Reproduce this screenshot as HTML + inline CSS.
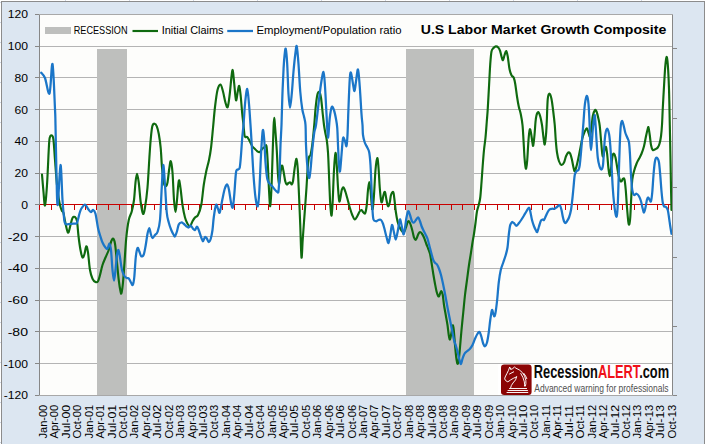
<!DOCTYPE html>
<html><head><meta charset="utf-8"><title>U.S Labor Market Growth Composite</title>
<style>html,body{margin:0;padding:0;background:#fff;}body{width:705px;height:444px;overflow:hidden;font-family:"Liberation Sans",sans-serif;}svg{display:block}text{font-family:"Liberation Sans",sans-serif;}</style></head><body>
<svg width="705" height="444" viewBox="0 0 705 444">
<rect x="0" y="0" width="705" height="444" fill="#ffffff"/>
<g shape-rendering="crispEdges">
<rect x="1" y="1" width="704" height="460" fill="#8c8c8c"/>
<rect x="2" y="2" width="702" height="460" fill="#dce6f1"/>
<rect x="65" y="0" width="1" height="1" fill="#d0d7e5"/>
<rect x="129" y="0" width="1" height="1" fill="#d0d7e5"/>
<rect x="193" y="0" width="1" height="1" fill="#d0d7e5"/>
<rect x="257" y="0" width="1" height="1" fill="#d0d7e5"/>
<rect x="321" y="0" width="1" height="1" fill="#d0d7e5"/>
<rect x="385" y="0" width="1" height="1" fill="#d0d7e5"/>
<rect x="449" y="0" width="1" height="1" fill="#d0d7e5"/>
<rect x="513" y="0" width="1" height="1" fill="#d0d7e5"/>
<rect x="577" y="0" width="1" height="1" fill="#d0d7e5"/>
<rect x="641" y="0" width="1" height="1" fill="#d0d7e5"/>
<rect x="0" y="2" width="1" height="1" fill="#d0d7e5"/>
<rect x="0" y="22" width="1" height="1" fill="#d0d7e5"/>
<rect x="0" y="42" width="1" height="1" fill="#d0d7e5"/>
<rect x="0" y="62" width="1" height="1" fill="#d0d7e5"/>
<rect x="0" y="82" width="1" height="1" fill="#d0d7e5"/>
<rect x="0" y="102" width="1" height="1" fill="#d0d7e5"/>
<rect x="0" y="122" width="1" height="1" fill="#d0d7e5"/>
<rect x="0" y="142" width="1" height="1" fill="#d0d7e5"/>
<rect x="0" y="162" width="1" height="1" fill="#d0d7e5"/>
<rect x="0" y="182" width="1" height="1" fill="#d0d7e5"/>
<rect x="0" y="202" width="1" height="1" fill="#d0d7e5"/>
<rect x="0" y="222" width="1" height="1" fill="#d0d7e5"/>
<rect x="0" y="242" width="1" height="1" fill="#d0d7e5"/>
<rect x="0" y="262" width="1" height="1" fill="#d0d7e5"/>
<rect x="0" y="282" width="1" height="1" fill="#d0d7e5"/>
<rect x="0" y="302" width="1" height="1" fill="#d0d7e5"/>
<rect x="0" y="322" width="1" height="1" fill="#d0d7e5"/>
<rect x="0" y="342" width="1" height="1" fill="#d0d7e5"/>
<rect x="0" y="362" width="1" height="1" fill="#d0d7e5"/>
<rect x="0" y="382" width="1" height="1" fill="#d0d7e5"/>
<rect x="0" y="402" width="1" height="1" fill="#d0d7e5"/>
<rect x="0" y="422" width="1" height="1" fill="#d0d7e5"/>
<rect x="0" y="442" width="1" height="1" fill="#d0d7e5"/>
<rect x="39" y="14" width="634" height="382" fill="#fdfdfb"/>
<rect x="40" y="363" width="632" height="1" fill="#b4b4b4"/>
<rect x="40" y="331" width="632" height="1" fill="#b4b4b4"/>
<rect x="40" y="300" width="632" height="1" fill="#b4b4b4"/>
<rect x="40" y="268" width="632" height="1" fill="#b4b4b4"/>
<rect x="40" y="236" width="632" height="1" fill="#b4b4b4"/>
<rect x="40" y="173" width="632" height="1" fill="#b4b4b4"/>
<rect x="40" y="141" width="632" height="1" fill="#b4b4b4"/>
<rect x="40" y="109" width="632" height="1" fill="#b4b4b4"/>
<rect x="40" y="77" width="632" height="1" fill="#b4b4b4"/>
<rect x="40" y="46" width="632" height="1" fill="#b4b4b4"/>
<rect x="40" y="14" width="632" height="1" fill="#b4b4b4"/>
<rect x="97" y="49" width="30" height="346" fill="#bebfbd"/>
<rect x="406" y="49" width="68" height="346" fill="#bebfbd"/>
<rect x="40" y="204" width="632" height="1" fill="#c80000"/>
<rect x="51" y="204" width="1" height="6" fill="#c80000"/>
<rect x="62" y="204" width="1" height="6" fill="#c80000"/>
<rect x="74" y="204" width="1" height="6" fill="#c80000"/>
<rect x="85" y="204" width="1" height="6" fill="#c80000"/>
<rect x="96" y="204" width="1" height="6" fill="#c80000"/>
<rect x="108" y="204" width="1" height="6" fill="#c80000"/>
<rect x="119" y="204" width="1" height="6" fill="#c80000"/>
<rect x="131" y="204" width="1" height="6" fill="#c80000"/>
<rect x="142" y="204" width="1" height="6" fill="#c80000"/>
<rect x="154" y="204" width="1" height="6" fill="#c80000"/>
<rect x="165" y="204" width="1" height="6" fill="#c80000"/>
<rect x="176" y="204" width="1" height="6" fill="#c80000"/>
<rect x="188" y="204" width="1" height="6" fill="#c80000"/>
<rect x="199" y="204" width="1" height="6" fill="#c80000"/>
<rect x="211" y="204" width="1" height="6" fill="#c80000"/>
<rect x="222" y="204" width="1" height="6" fill="#c80000"/>
<rect x="234" y="204" width="1" height="6" fill="#c80000"/>
<rect x="245" y="204" width="1" height="6" fill="#c80000"/>
<rect x="256" y="204" width="1" height="6" fill="#c80000"/>
<rect x="268" y="204" width="1" height="6" fill="#c80000"/>
<rect x="279" y="204" width="1" height="6" fill="#c80000"/>
<rect x="291" y="204" width="1" height="6" fill="#c80000"/>
<rect x="302" y="204" width="1" height="6" fill="#c80000"/>
<rect x="314" y="204" width="1" height="6" fill="#c80000"/>
<rect x="325" y="204" width="1" height="6" fill="#c80000"/>
<rect x="336" y="204" width="1" height="6" fill="#c80000"/>
<rect x="348" y="204" width="1" height="6" fill="#c80000"/>
<rect x="359" y="204" width="1" height="6" fill="#c80000"/>
<rect x="371" y="204" width="1" height="6" fill="#c80000"/>
<rect x="382" y="204" width="1" height="6" fill="#c80000"/>
<rect x="394" y="204" width="1" height="6" fill="#c80000"/>
<rect x="405" y="204" width="1" height="6" fill="#c80000"/>
<rect x="416" y="204" width="1" height="6" fill="#c80000"/>
<rect x="428" y="204" width="1" height="6" fill="#c80000"/>
<rect x="439" y="204" width="1" height="6" fill="#c80000"/>
<rect x="451" y="204" width="1" height="6" fill="#c80000"/>
<rect x="462" y="204" width="1" height="6" fill="#c80000"/>
<rect x="474" y="204" width="1" height="6" fill="#c80000"/>
<rect x="485" y="204" width="1" height="6" fill="#c80000"/>
<rect x="497" y="204" width="1" height="6" fill="#c80000"/>
<rect x="508" y="204" width="1" height="6" fill="#c80000"/>
<rect x="519" y="204" width="1" height="6" fill="#c80000"/>
<rect x="531" y="204" width="1" height="6" fill="#c80000"/>
<rect x="542" y="204" width="1" height="6" fill="#c80000"/>
<rect x="554" y="204" width="1" height="6" fill="#c80000"/>
<rect x="565" y="204" width="1" height="6" fill="#c80000"/>
<rect x="577" y="204" width="1" height="6" fill="#c80000"/>
<rect x="588" y="204" width="1" height="6" fill="#c80000"/>
<rect x="599" y="204" width="1" height="6" fill="#c80000"/>
<rect x="611" y="204" width="1" height="6" fill="#c80000"/>
<rect x="622" y="204" width="1" height="6" fill="#c80000"/>
<rect x="634" y="204" width="1" height="6" fill="#c80000"/>
<rect x="645" y="204" width="1" height="6" fill="#c80000"/>
<rect x="657" y="204" width="1" height="6" fill="#c80000"/>
<rect x="668" y="204" width="1" height="6" fill="#c80000"/>
</g>
<clipPath id="cp"><rect x="39" y="14" width="634" height="382"/></clipPath>
<g clip-path="url(#cp)" fill="none" stroke-linejoin="round" stroke-linecap="round">
<path d="M42.00,174.50C42.25,177.42 43.00,186.83 43.50,192.00C44.00,197.17 44.42,206.67 45.00,205.50C45.58,204.33 46.33,195.08 47.00,185.00C47.67,174.92 48.50,153.00 49.00,145.00C49.50,137.00 49.50,138.58 50.00,137.00C50.50,135.42 51.42,135.00 52.00,135.50C52.58,136.00 53.00,135.92 53.50,140.00C54.00,144.08 54.42,152.50 55.00,160.00C55.58,167.50 56.33,178.33 57.00,185.00C57.67,191.67 58.42,196.33 59.00,200.00C59.58,203.67 60.00,205.17 60.50,207.00C61.00,208.83 61.50,210.00 62.00,211.00C62.50,212.00 63.00,211.33 63.50,213.00C64.00,214.67 64.42,218.17 65.00,221.00C65.58,223.83 66.42,228.08 67.00,230.00C67.58,231.92 67.92,233.33 68.50,232.50C69.08,231.67 69.83,227.42 70.50,225.00C71.17,222.58 71.75,219.33 72.50,218.00C73.25,216.67 74.25,216.50 75.00,217.00C75.75,217.50 76.42,217.83 77.00,221.00C77.58,224.17 77.92,231.17 78.50,236.00C79.08,240.83 79.83,246.42 80.50,250.00C81.17,253.58 81.83,256.83 82.50,257.50C83.17,258.17 83.88,255.88 84.50,254.00C85.12,252.12 85.67,246.50 86.25,246.25C86.83,246.00 87.38,248.54 88.00,252.50C88.62,256.46 89.25,265.62 90.00,270.00C90.75,274.38 91.58,276.75 92.50,278.75C93.42,280.75 94.58,281.58 95.50,282.00C96.42,282.42 97.25,282.42 98.00,281.25C98.75,280.08 99.25,277.71 100.00,275.00C100.75,272.29 101.58,267.92 102.50,265.00C103.42,262.08 104.46,260.00 105.50,257.50C106.54,255.00 107.79,252.71 108.75,250.00C109.71,247.29 110.50,243.12 111.25,241.25C112.00,239.38 112.62,238.33 113.25,238.75C113.88,239.17 114.42,240.21 115.00,243.75C115.58,247.29 116.12,253.96 116.75,260.00C117.38,266.04 118.12,274.79 118.75,280.00C119.38,285.21 120.04,289.08 120.50,291.25C120.96,293.42 121.08,294.46 121.50,293.00C121.92,291.54 122.50,287.58 123.00,282.50C123.50,277.42 123.96,269.92 124.50,262.50C125.04,255.08 125.54,245.08 126.25,238.00C126.96,230.92 127.83,224.46 128.75,220.00C129.68,215.54 130.93,214.58 131.80,211.25C132.68,207.92 133.38,204.79 134.00,200.00C134.62,195.21 135.00,186.88 135.50,182.50C136.00,178.12 136.46,173.75 137.00,173.75C137.54,173.75 138.12,177.71 138.75,182.50C139.38,187.29 140.04,197.29 140.75,202.50C141.46,207.71 142.29,212.92 143.00,213.75C143.71,214.58 144.25,211.88 145.00,207.50C145.75,203.12 146.77,195.83 147.50,187.50C148.23,179.17 148.87,165.50 149.40,157.50C149.93,149.50 150.22,144.70 150.70,139.50C151.18,134.30 151.65,128.93 152.30,126.30C152.95,123.67 153.85,123.70 154.60,123.70C155.35,123.70 156.10,124.58 156.80,126.30C157.50,128.02 158.15,130.38 158.80,134.00C159.45,137.62 160.17,142.42 160.70,148.00C161.23,153.58 161.49,161.75 162.00,167.50C162.51,173.25 163.12,179.38 163.75,182.50C164.38,185.62 165.12,186.25 165.75,186.25C166.38,186.25 166.92,185.42 167.50,182.50C168.08,179.58 168.71,172.29 169.25,168.75C169.79,165.21 170.21,160.62 170.75,161.25C171.29,161.88 171.96,166.04 172.50,172.50C173.04,178.96 173.50,193.42 174.00,200.00C174.50,206.58 175.00,212.00 175.50,212.00C176.00,212.00 176.54,204.50 177.00,200.00C177.46,195.50 177.88,188.25 178.25,185.00C178.62,181.75 178.83,179.67 179.25,180.50C179.67,181.33 180.21,185.92 180.75,190.00C181.29,194.08 181.79,200.42 182.50,205.00C183.21,209.58 184.17,214.38 185.00,217.50C185.83,220.62 186.67,222.29 187.50,223.75C188.33,225.21 189.17,226.67 190.00,226.25C190.83,225.83 191.67,222.71 192.50,221.25C193.33,219.79 194.08,218.54 195.00,217.50C195.92,216.46 196.96,217.08 198.00,215.00C199.04,212.92 200.29,210.00 201.25,205.00C202.21,200.00 202.92,190.62 203.75,185.00C204.58,179.38 205.38,175.42 206.25,171.25C207.12,167.08 208.21,163.88 209.00,160.00C209.79,156.12 210.33,153.33 211.00,148.00C211.67,142.67 212.33,134.83 213.00,128.00C213.67,121.17 214.25,113.33 215.00,107.00C215.75,100.67 216.58,93.75 217.50,90.00C218.42,86.25 219.58,84.25 220.50,84.50C221.42,84.75 222.17,88.46 223.00,91.50C223.83,94.54 224.71,100.17 225.50,102.75C226.29,105.33 227.04,108.46 227.75,107.00C228.46,105.54 229.12,99.08 229.75,94.00C230.38,88.92 231.00,80.46 231.50,76.50C232.00,72.54 232.29,69.00 232.75,70.25C233.21,71.50 233.71,79.00 234.25,84.00C234.79,89.00 235.42,99.00 236.00,100.25C236.58,101.50 237.21,93.88 237.75,91.50C238.29,89.12 238.75,85.17 239.25,86.00C239.75,86.83 240.25,91.83 240.75,96.50C241.25,101.17 241.79,109.25 242.25,114.00C242.71,118.75 243.08,121.29 243.50,125.00C243.92,128.71 244.12,134.25 244.75,136.25C245.38,138.25 246.42,136.17 247.25,137.00C248.08,137.83 248.92,139.71 249.75,141.25C250.58,142.79 251.42,145.00 252.25,146.25C253.08,147.50 253.92,147.92 254.75,148.75C255.58,149.58 256.42,150.71 257.25,151.25C258.08,151.79 258.92,152.42 259.75,152.00C260.58,151.58 261.42,149.58 262.25,148.75C263.08,147.92 264.04,147.42 264.75,147.00C265.46,146.58 266.00,143.67 266.50,146.25C267.00,148.83 267.33,155.21 267.75,162.50C268.17,169.79 268.58,182.71 269.00,190.00C269.42,197.29 269.83,206.67 270.25,206.25C270.67,205.83 271.08,196.88 271.50,187.50C271.92,178.12 272.40,160.25 272.75,150.00C273.10,139.75 273.35,131.37 273.60,126.00C273.85,120.63 274.02,117.80 274.25,117.80C274.48,117.80 274.58,120.63 275.00,126.00C275.42,131.37 276.25,141.83 276.75,150.00C277.25,158.17 277.58,169.38 278.00,175.00C278.42,180.62 278.83,184.17 279.25,183.75C279.67,183.33 280.04,175.54 280.50,172.50C280.96,169.46 281.50,165.71 282.00,165.50C282.50,165.29 282.96,168.62 283.50,171.25C284.04,173.88 284.71,179.04 285.25,181.25C285.79,183.46 286.21,184.21 286.75,184.50C287.29,184.79 287.92,183.33 288.50,183.00C289.08,182.67 289.71,182.25 290.25,182.50C290.79,182.75 291.29,184.71 291.75,184.50C292.21,184.29 292.50,184.08 293.00,181.25C293.50,178.42 294.17,171.25 294.75,167.50C295.33,163.75 296.00,158.54 296.50,158.75C297.00,158.96 297.33,162.71 297.75,168.75C298.17,174.79 298.58,185.62 299.00,195.00C299.42,204.38 299.83,214.58 300.25,225.00C300.67,235.42 301.09,255.00 301.50,257.50C301.91,260.00 302.28,245.92 302.70,240.00C303.12,234.08 303.57,227.83 304.00,222.00C304.43,216.17 304.83,210.75 305.25,205.00C305.67,199.25 306.08,193.75 306.50,187.50C306.92,181.25 307.33,172.58 307.75,167.50C308.17,162.42 308.54,159.08 309.00,157.00C309.46,154.92 309.96,157.00 310.50,155.00C311.04,153.00 311.75,148.67 312.25,145.00C312.75,141.33 313.12,136.83 313.50,133.00C313.88,129.17 314.17,126.00 314.50,122.00C314.83,118.00 315.04,113.46 315.50,109.00C315.96,104.54 316.62,98.08 317.25,95.25C317.88,92.42 318.62,91.58 319.25,92.00C319.88,92.42 320.42,94.08 321.00,97.75C321.58,101.42 322.25,109.46 322.75,114.00C323.25,118.54 323.58,121.92 324.00,125.00C324.42,128.08 324.79,130.00 325.25,132.50C325.71,135.00 326.29,136.67 326.75,140.00C327.21,143.33 327.62,146.67 328.00,152.50C328.38,158.33 328.67,167.08 329.00,175.00C329.33,182.92 329.67,193.67 330.00,200.00C330.33,206.33 330.71,210.58 331.00,213.00C331.29,215.42 331.46,216.67 331.75,214.50C332.04,212.33 332.38,207.42 332.75,200.00C333.12,192.58 333.54,177.83 334.00,170.00C334.46,162.17 335.04,153.83 335.50,153.00C335.96,152.17 336.33,159.25 336.75,165.00C337.17,170.75 337.58,181.46 338.00,187.50C338.42,193.54 338.83,199.58 339.25,201.25C339.67,202.92 340.08,199.38 340.50,197.50C340.92,195.62 341.25,191.67 341.75,190.00C342.25,188.33 342.88,187.17 343.50,187.50C344.12,187.83 344.79,189.92 345.50,192.00C346.21,194.08 347.04,197.42 347.75,200.00C348.46,202.58 349.00,205.00 349.75,207.50C350.50,210.00 351.42,213.00 352.25,215.00C353.08,217.00 353.92,219.29 354.75,219.50C355.58,219.71 356.42,217.62 357.25,216.25C358.08,214.88 359.04,212.29 359.75,211.25C360.46,210.21 360.88,209.79 361.50,210.00C362.12,210.21 362.88,212.00 363.50,212.50C364.12,213.00 364.71,214.25 365.25,213.00C365.79,211.75 366.29,208.83 366.75,205.00C367.21,201.17 367.58,193.83 368.00,190.00C368.42,186.17 368.83,182.00 369.25,182.00C369.67,182.00 370.08,186.17 370.50,190.00C370.92,193.83 371.38,201.88 371.75,205.00C372.12,208.12 372.38,210.42 372.75,208.75C373.12,207.08 373.54,201.46 374.00,195.00C374.46,188.54 374.96,176.17 375.50,170.00C376.04,163.83 376.75,158.42 377.25,158.00C377.75,157.58 378.08,162.58 378.50,167.50C378.92,172.42 379.33,182.08 379.75,187.50C380.17,192.92 380.62,197.58 381.00,200.00C381.38,202.42 381.58,202.83 382.00,202.00C382.42,201.17 383.00,196.67 383.50,195.00C384.00,193.33 384.50,191.17 385.00,192.00C385.50,192.83 386.00,197.62 386.50,200.00C387.00,202.38 387.46,205.83 388.00,206.25C388.54,206.67 389.25,204.38 389.75,202.50C390.25,200.62 390.42,196.75 391.00,195.00C391.58,193.25 392.67,191.17 393.25,192.00C393.83,192.83 394.08,196.79 394.50,200.00C394.92,203.21 395.25,207.71 395.75,211.25C396.25,214.79 396.88,218.62 397.50,221.25C398.12,223.88 398.83,225.46 399.50,227.00C400.17,228.54 400.78,229.58 401.50,230.50C402.22,231.42 403.09,232.92 403.80,232.50C404.51,232.08 405.13,229.67 405.75,228.00C406.37,226.33 406.96,223.62 407.50,222.50C408.04,221.38 408.46,220.83 409.00,221.25C409.54,221.67 410.17,223.33 410.75,225.00C411.33,226.67 411.96,229.17 412.50,231.25C413.04,233.33 413.50,236.04 414.00,237.50C414.50,238.96 415.00,240.00 415.50,240.00C416.00,240.00 416.50,238.54 417.00,237.50C417.50,236.46 418.00,234.67 418.50,233.75C419.00,232.83 419.42,232.00 420.00,232.00C420.58,232.00 421.33,232.83 422.00,233.75C422.67,234.67 423.29,235.83 424.00,237.50C424.71,239.17 425.54,241.88 426.25,243.75C426.96,245.62 427.62,247.08 428.25,248.75C428.88,250.42 429.46,251.46 430.00,253.75C430.54,256.04 430.96,259.17 431.50,262.50C432.04,265.83 432.67,270.21 433.25,273.75C433.83,277.29 434.46,280.83 435.00,283.75C435.54,286.67 436.00,289.25 436.50,291.25C437.00,293.25 437.58,294.92 438.00,295.75C438.42,296.58 438.62,296.71 439.00,296.25C439.38,295.79 439.83,293.83 440.25,293.00C440.67,292.17 441.08,290.92 441.50,291.25C441.92,291.58 442.33,292.71 442.75,295.00C443.17,297.29 443.50,301.67 444.00,305.00C444.50,308.33 445.17,311.67 445.75,315.00C446.33,318.33 447.00,321.67 447.50,325.00C448.00,328.33 448.33,332.58 448.75,335.00C449.17,337.42 449.54,339.92 450.00,339.50C450.46,339.08 451.00,334.92 451.50,332.50C452.00,330.08 452.58,325.00 453.00,325.00C453.42,325.00 453.67,329.17 454.00,332.50C454.33,335.83 454.62,340.83 455.00,345.00C455.38,349.17 455.83,354.38 456.25,357.50C456.67,360.62 457.08,363.33 457.50,363.75C457.92,364.17 458.33,362.71 458.75,360.00C459.17,357.29 459.54,352.50 460.00,347.50C460.46,342.50 460.96,335.83 461.50,330.00C462.04,324.17 462.67,318.33 463.25,312.50C463.83,306.67 464.38,300.42 465.00,295.00C465.62,289.58 466.33,285.00 467.00,280.00C467.67,275.00 468.33,269.58 469.00,265.00C469.67,260.42 470.42,256.25 471.00,252.50C471.58,248.75 472.00,245.62 472.50,242.50C473.00,239.38 473.50,237.00 474.00,233.75C474.50,230.50 475.00,226.75 475.50,223.00C476.00,219.25 476.46,214.25 477.00,211.25C477.54,208.25 478.21,207.29 478.75,205.00C479.29,202.71 479.79,201.25 480.25,197.50C480.71,193.75 481.08,187.92 481.50,182.50C481.92,177.08 482.33,170.42 482.75,165.00C483.17,159.58 483.54,154.58 484.00,150.00C484.46,145.42 485.04,142.17 485.50,137.50C485.96,132.83 486.38,126.75 486.75,122.00C487.12,117.25 487.38,114.92 487.75,109.00C488.12,103.08 488.58,94.00 489.00,86.50C489.42,79.00 489.83,69.83 490.25,64.00C490.67,58.17 491.00,54.13 491.50,51.50C492.00,48.87 492.54,49.05 493.25,48.20C493.96,47.35 494.92,46.53 495.75,46.40C496.58,46.27 497.54,46.70 498.25,47.40C498.96,48.10 499.46,49.08 500.00,50.60C500.54,52.12 501.00,54.89 501.50,56.50C502.00,58.11 502.50,60.46 503.00,60.25C503.50,60.04 503.96,56.79 504.50,55.25C505.04,53.71 505.71,50.79 506.25,51.00C506.79,51.21 507.21,53.50 507.75,56.50C508.29,59.50 508.88,65.88 509.50,69.00C510.12,72.12 510.79,73.79 511.50,75.25C512.21,76.71 513.12,76.29 513.75,77.75C514.38,79.21 514.71,80.88 515.25,84.00C515.79,87.12 516.42,92.75 517.00,96.50C517.58,100.25 518.12,103.58 518.75,106.50C519.38,109.42 520.12,110.92 520.75,114.00C521.38,117.08 522.04,120.67 522.50,125.00C522.96,129.33 523.17,134.58 523.50,140.00C523.83,145.42 524.17,153.00 524.50,157.50C524.83,162.00 525.21,165.25 525.50,167.00C525.79,168.75 525.96,169.17 526.25,168.00C526.54,166.83 526.88,164.67 527.25,160.00C527.62,155.33 528.08,145.08 528.50,140.00C528.92,134.92 529.33,130.67 529.75,129.50C530.17,128.33 530.54,130.75 531.00,133.00C531.46,135.25 532.12,140.92 532.50,143.00C532.88,145.08 532.92,146.83 533.25,145.50C533.58,144.17 534.12,138.92 534.50,135.00C534.88,131.08 535.17,125.29 535.50,122.00C535.83,118.71 536.04,116.92 536.50,115.25C536.96,113.58 537.62,111.79 538.25,112.00C538.88,112.21 539.62,114.33 540.25,116.50C540.88,118.67 541.46,121.50 542.00,125.00C542.54,128.50 543.04,134.25 543.50,137.50C543.96,140.75 544.33,144.92 544.75,144.50C545.17,144.08 545.67,138.75 546.00,135.00C546.33,131.25 546.46,128.00 546.75,122.00C547.04,116.00 547.29,103.75 547.75,99.00C548.21,94.25 548.88,93.50 549.50,93.50C550.12,93.50 550.88,96.00 551.50,99.00C552.12,102.00 552.71,107.17 553.25,111.50C553.79,115.83 554.33,120.25 554.75,125.00C555.17,129.75 555.38,135.42 555.75,140.00C556.12,144.58 556.46,148.96 557.00,152.50C557.54,156.04 558.25,159.17 559.00,161.25C559.75,163.33 560.67,164.79 561.50,165.00C562.33,165.21 563.25,163.96 564.00,162.50C564.75,161.04 565.29,157.92 566.00,156.25C566.71,154.58 567.54,152.92 568.25,152.50C568.96,152.08 569.62,152.50 570.25,153.75C570.88,155.00 571.46,157.71 572.00,160.00C572.54,162.29 573.04,165.62 573.50,167.50C573.96,169.38 574.25,171.46 574.75,171.25C575.25,171.04 575.92,168.33 576.50,166.25C577.08,164.17 577.62,161.67 578.25,158.75C578.88,155.83 579.58,152.08 580.25,148.75C580.92,145.42 581.54,141.54 582.25,138.75C582.96,135.96 583.73,133.74 584.50,132.00C585.27,130.26 586.22,128.13 586.90,128.30C587.58,128.47 588.08,131.63 588.60,133.00C589.12,134.37 589.53,137.33 590.00,136.50C590.47,135.67 590.93,131.42 591.40,128.00C591.87,124.58 592.22,118.97 592.80,116.00C593.38,113.03 594.28,110.95 594.90,110.20C595.52,109.45 595.90,110.03 596.50,111.50C597.10,112.97 597.96,116.58 598.50,119.00C599.04,121.42 599.33,122.50 599.75,126.00C600.17,129.50 600.58,135.38 601.00,140.00C601.42,144.62 601.88,151.04 602.25,153.75C602.62,156.46 602.88,156.88 603.25,156.25C603.62,155.62 604.04,151.54 604.50,150.00C604.96,148.46 605.54,146.17 606.00,147.00C606.46,147.83 606.83,151.38 607.25,155.00C607.67,158.62 608.08,165.21 608.50,168.75C608.92,172.29 609.33,176.25 609.75,176.25C610.17,176.25 610.54,172.08 611.00,168.75C611.46,165.42 612.00,158.75 612.50,156.25C613.00,153.75 613.50,153.54 614.00,153.75C614.50,153.96 615.00,155.42 615.50,157.50C616.00,159.58 616.50,163.33 617.00,166.25C617.50,169.17 618.00,172.62 618.50,175.00C619.00,177.38 619.50,179.46 620.00,180.50C620.50,181.54 621.00,181.54 621.50,181.25C622.00,180.96 622.50,179.04 623.00,178.75C623.50,178.46 624.04,177.62 624.50,179.50C624.96,181.38 625.33,185.33 625.75,190.00C626.17,194.67 626.58,202.29 627.00,207.50C627.42,212.71 627.88,218.42 628.25,221.25C628.62,224.08 628.92,225.12 629.25,224.50C629.58,223.88 629.92,222.00 630.25,217.50C630.58,213.00 630.92,203.75 631.25,197.50C631.58,191.25 631.79,184.38 632.25,180.00C632.71,175.62 633.29,173.96 634.00,171.25C634.71,168.54 635.67,165.83 636.50,163.75C637.33,161.67 638.17,160.42 639.00,158.75C639.83,157.08 640.67,155.83 641.50,153.75C642.33,151.67 643.25,149.17 644.00,146.25C644.75,143.33 645.38,139.17 646.00,136.25C646.62,133.33 647.33,130.21 647.75,128.75C648.17,127.29 648.17,126.46 648.50,127.50C648.83,128.54 649.33,132.08 649.75,135.00C650.17,137.92 650.50,142.50 651.00,145.00C651.50,147.50 652.04,149.29 652.75,150.00C653.46,150.71 654.42,149.67 655.25,149.25C656.08,148.83 657.04,148.42 657.75,147.50C658.46,146.58 658.96,145.62 659.50,143.75C660.04,141.88 660.58,139.38 661.00,136.25C661.42,133.12 661.71,129.54 662.00,125.00C662.29,120.46 662.42,115.42 662.75,109.00C663.08,102.58 663.58,93.58 664.00,86.50C664.42,79.42 664.83,71.42 665.25,66.50C665.67,61.58 666.08,57.42 666.50,57.00C666.92,56.58 667.33,58.67 667.75,64.00C668.17,69.33 668.66,78.83 669.00,89.00C669.34,99.17 669.55,113.17 669.80,125.00C670.05,136.83 670.30,149.58 670.50,160.00C670.70,170.42 670.83,179.17 671.00,187.50C671.17,195.83 671.42,206.25 671.50,210.00" stroke="#0f6a0f" stroke-width="2.15"/>
<path d="M41.25,72.75C41.88,73.62 43.62,74.54 45.00,78.00C46.38,81.46 48.25,95.83 49.50,93.50C50.75,91.17 51.58,61.42 52.50,64.00C53.42,66.58 54.50,98.83 55.00,109.00C55.50,119.17 55.25,114.00 55.50,125.00C55.75,136.00 56.13,161.67 56.50,175.00C56.87,188.33 57.03,206.67 57.70,205.00C58.37,203.33 59.70,165.83 60.50,165.00C61.30,164.17 61.88,190.92 62.50,200.00C63.12,209.08 63.75,215.57 64.20,219.50C64.65,223.43 64.82,222.80 65.20,223.60C65.58,224.40 65.70,224.25 66.50,224.30C67.30,224.35 68.79,224.02 70.00,223.90C71.21,223.78 72.65,223.68 73.75,223.60C74.85,223.52 75.89,224.08 76.60,223.40C77.31,222.72 77.52,221.15 78.00,219.50C78.48,217.85 78.96,215.29 79.50,213.50C80.04,211.71 80.33,210.25 81.25,208.75C82.17,207.25 83.88,204.50 85.00,204.50C86.12,204.50 87.04,207.50 88.00,208.75C88.96,210.00 89.88,211.79 90.75,212.00C91.62,212.21 92.46,209.71 93.25,210.00C94.04,210.29 94.71,210.75 95.50,213.75C96.29,216.75 97.25,224.46 98.00,228.00C98.75,231.54 99.25,232.58 100.00,235.00C100.75,237.42 101.58,240.42 102.50,242.50C103.42,244.58 104.67,246.46 105.50,247.50C106.33,248.54 106.83,249.38 107.50,248.75C108.17,248.12 108.92,243.54 109.50,243.75C110.08,243.96 110.50,245.62 111.00,250.00C111.50,254.38 112.00,264.92 112.50,270.00C113.00,275.08 113.50,280.50 114.00,280.50C114.50,280.50 115.00,274.25 115.50,270.00C116.00,265.75 116.50,258.33 117.00,255.00C117.50,251.67 118.00,249.58 118.50,250.00C119.00,250.42 119.42,254.17 120.00,257.50C120.58,260.83 121.25,266.88 122.00,270.00C122.75,273.12 123.67,274.92 124.50,276.25C125.33,277.58 126.25,277.58 127.00,278.00C127.75,278.42 128.33,278.00 129.00,278.75C129.67,279.50 130.38,281.46 131.00,282.50C131.62,283.54 132.21,285.83 132.75,285.00C133.29,284.17 133.75,282.08 134.25,277.50C134.75,272.92 135.21,262.42 135.75,257.50C136.29,252.58 136.92,249.04 137.50,248.00C138.08,246.96 138.62,249.88 139.25,251.25C139.88,252.62 140.50,255.71 141.25,256.25C142.00,256.79 143.00,256.38 143.75,254.50C144.50,252.62 145.12,248.46 145.75,245.00C146.38,241.54 146.92,236.58 147.50,233.75C148.08,230.92 148.71,228.00 149.25,228.00C149.79,228.00 150.21,232.08 150.75,233.75C151.29,235.42 151.79,237.79 152.50,238.00C153.21,238.21 154.17,236.00 155.00,235.00C155.83,234.00 156.67,234.50 157.50,232.00C158.33,229.50 159.29,227.42 160.00,220.00C160.71,212.58 161.21,196.67 161.75,187.50C162.29,178.33 162.71,165.42 163.25,165.00C163.79,164.58 164.42,177.08 165.00,185.00C165.58,192.92 166.12,206.25 166.75,212.50C167.38,218.75 168.00,219.58 168.75,222.50C169.50,225.42 170.42,227.92 171.25,230.00C172.08,232.08 173.12,233.96 173.75,235.00C174.38,236.04 174.46,236.88 175.00,236.25C175.54,235.62 176.38,233.21 177.00,231.25C177.62,229.29 178.04,225.96 178.75,224.50C179.46,223.04 180.42,222.62 181.25,222.50C182.08,222.38 182.92,223.12 183.75,223.75C184.58,224.38 185.42,225.62 186.25,226.25C187.08,226.88 188.00,227.62 188.75,227.50C189.50,227.38 190.04,225.29 190.75,225.50C191.46,225.71 192.29,228.00 193.00,228.75C193.71,229.50 194.33,230.38 195.00,230.00C195.67,229.62 196.38,226.50 197.00,226.50C197.62,226.50 198.04,228.17 198.75,230.00C199.46,231.83 200.54,235.62 201.25,237.50C201.96,239.38 202.38,241.33 203.00,241.25C203.62,241.17 204.33,237.42 205.00,237.00C205.67,236.58 206.38,237.92 207.00,238.75C207.62,239.58 208.12,242.00 208.75,242.00C209.38,242.00 210.12,240.75 210.75,238.75C211.38,236.75 212.00,233.54 212.50,230.00C213.00,226.46 213.17,221.67 213.75,217.50C214.33,213.33 215.29,206.46 216.00,205.00C216.71,203.54 217.38,207.50 218.00,208.75C218.62,210.00 219.04,213.96 219.75,212.50C220.46,211.04 221.42,203.96 222.25,200.00C223.08,196.04 223.92,191.33 224.75,188.75C225.58,186.17 226.54,184.29 227.25,184.50C227.96,184.71 228.38,187.00 229.00,190.00C229.62,193.00 230.38,199.58 231.00,202.50C231.62,205.42 232.21,208.75 232.75,207.50C233.29,206.25 233.71,200.83 234.25,195.00C234.79,189.17 235.38,176.75 236.00,172.50C236.62,168.25 237.38,170.33 238.00,169.50C238.62,168.67 239.25,169.92 239.75,167.50C240.25,165.08 240.58,160.00 241.00,155.00C241.42,150.00 241.83,142.50 242.25,137.50C242.67,132.50 243.00,131.00 243.50,125.00C244.00,119.00 244.62,107.50 245.25,101.50C245.88,95.50 246.62,88.58 247.25,89.00C247.88,89.42 248.46,98.00 249.00,104.00C249.54,110.00 250.04,118.17 250.50,125.00C250.96,131.83 251.25,136.67 251.75,145.00C252.25,153.33 252.88,166.25 253.50,175.00C254.12,183.75 254.79,192.29 255.50,197.50C256.21,202.71 257.12,207.08 257.75,206.25C258.38,205.42 258.71,201.04 259.25,192.50C259.79,183.96 260.42,165.33 261.00,155.00C261.58,144.67 262.21,133.00 262.75,130.50C263.29,128.00 263.79,134.67 264.25,140.00C264.71,145.33 265.00,156.04 265.50,162.50C266.00,168.96 266.54,175.21 267.25,178.75C267.96,182.29 268.92,182.50 269.75,183.75C270.58,185.00 271.42,185.29 272.25,186.25C273.08,187.21 273.92,188.54 274.75,189.50C275.58,190.46 276.62,191.75 277.25,192.00C277.88,192.25 278.12,193.83 278.50,191.00C278.88,188.17 279.17,182.67 279.50,175.00C279.83,167.33 280.17,153.33 280.50,145.00C280.83,136.67 281.18,133.33 281.50,125.00C281.82,116.67 282.05,104.50 282.40,95.00C282.75,85.50 283.22,74.83 283.60,68.00C283.98,61.17 284.33,57.17 284.70,54.00C285.07,50.83 285.38,47.33 285.80,49.00C286.22,50.67 286.75,56.50 287.20,64.00C287.65,71.50 288.03,86.71 288.50,94.00C288.97,101.29 289.46,107.75 290.00,107.75C290.54,107.75 291.17,100.04 291.75,94.00C292.33,87.96 292.88,78.42 293.50,71.50C294.12,64.58 294.96,56.68 295.50,52.50C296.04,48.32 296.25,44.48 296.75,46.40C297.25,48.32 297.92,56.48 298.50,64.00C299.08,71.52 299.62,84.00 300.25,91.50C300.88,99.00 301.62,104.83 302.25,109.00C302.88,113.17 303.46,113.83 304.00,116.50C304.54,119.17 305.17,120.25 305.50,125.00C305.83,129.75 305.71,138.33 306.00,145.00C306.29,151.67 306.75,159.50 307.25,165.00C307.75,170.50 308.46,177.17 309.00,178.00C309.54,178.83 309.96,174.67 310.50,170.00C311.04,165.33 311.62,156.25 312.25,150.00C312.88,143.75 313.62,136.67 314.25,132.50C314.88,128.33 315.29,129.75 316.00,125.00C316.71,120.25 317.67,110.83 318.50,104.00C319.33,97.17 320.17,89.33 321.00,84.00C321.83,78.67 322.83,71.58 323.50,72.00C324.17,72.42 324.50,79.50 325.00,86.50C325.50,93.50 326.00,105.50 326.50,114.00C327.00,122.50 327.46,136.83 328.00,137.50C328.54,138.17 329.12,123.08 329.75,118.00C330.38,112.92 331.04,108.29 331.75,107.00C332.46,105.71 333.29,108.25 334.00,110.25C334.71,112.25 335.46,116.04 336.00,119.00C336.54,121.96 336.92,123.67 337.25,128.00C337.58,132.33 337.71,138.83 338.00,145.00C338.29,151.17 338.67,160.62 339.00,165.00C339.33,169.38 339.58,172.92 340.00,171.25C340.42,169.58 341.07,159.96 341.50,155.00C341.93,150.04 342.27,144.45 342.60,141.50C342.93,138.55 343.07,137.22 343.50,137.30C343.93,137.38 344.70,140.55 345.20,142.00C345.70,143.45 346.12,147.17 346.50,146.00C346.88,144.83 347.18,141.00 347.50,135.00C347.82,129.00 348.02,119.33 348.40,110.00C348.77,100.67 349.32,85.21 349.75,79.00C350.18,72.79 350.46,71.92 351.00,72.75C351.54,73.58 352.42,80.96 353.00,84.00C353.58,87.04 354.00,91.42 354.50,91.00C355.00,90.58 355.42,85.08 356.00,81.50C356.58,77.92 357.38,68.67 358.00,69.50C358.62,70.33 359.17,79.08 359.75,86.50C360.33,93.92 361.04,107.58 361.50,114.00C361.96,120.42 362.25,121.50 362.50,125.00C362.75,128.50 362.62,132.08 363.00,135.00C363.38,137.92 364.04,140.42 364.75,142.50C365.46,144.58 366.50,145.83 367.25,147.50C368.00,149.17 368.71,149.58 369.25,152.50C369.79,155.42 370.12,159.17 370.50,165.00C370.88,170.83 371.17,180.00 371.50,187.50C371.83,195.00 372.17,204.67 372.50,210.00C372.83,215.33 372.92,217.62 373.50,219.50C374.08,221.38 375.17,221.17 376.00,221.25C376.83,221.33 377.67,220.21 378.50,220.00C379.33,219.79 380.25,219.38 381.00,220.00C381.75,220.62 382.38,222.08 383.00,223.75C383.62,225.42 384.17,227.79 384.75,230.00C385.33,232.21 385.88,234.83 386.50,237.00C387.12,239.17 387.88,243.33 388.50,243.00C389.12,242.67 389.67,238.00 390.25,235.00C390.83,232.00 391.38,225.42 392.00,225.00C392.62,224.58 393.38,230.08 394.00,232.50C394.62,234.92 395.17,239.50 395.75,239.50C396.33,239.50 396.96,235.08 397.50,232.50C398.04,229.92 398.54,226.17 399.00,224.00C399.46,221.83 399.67,218.50 400.25,219.50C400.83,220.50 401.88,227.62 402.50,230.00C403.12,232.38 403.33,235.83 404.00,233.75C404.67,231.67 405.79,221.25 406.50,217.50C407.21,213.75 407.67,211.67 408.25,211.25C408.83,210.83 409.38,213.33 410.00,215.00C410.62,216.67 411.33,220.00 412.00,221.25C412.67,222.50 413.29,222.79 414.00,222.50C414.71,222.21 415.54,220.33 416.25,219.50C416.96,218.67 417.62,217.21 418.25,217.50C418.88,217.79 419.46,219.83 420.00,221.25C420.54,222.67 420.96,224.54 421.50,226.00C422.04,227.46 422.54,228.50 423.25,230.00C423.96,231.50 425.04,233.54 425.75,235.00C426.46,236.46 426.88,236.88 427.50,238.75C428.12,240.62 428.83,243.75 429.50,246.25C430.17,248.75 430.88,251.46 431.50,253.75C432.12,256.04 432.62,258.46 433.25,260.00C433.88,261.54 434.62,262.25 435.25,263.00C435.88,263.75 436.38,263.54 437.00,264.50C437.62,265.46 438.33,267.00 439.00,268.75C439.67,270.50 440.29,272.29 441.00,275.00C441.71,277.71 442.54,281.67 443.25,285.00C443.96,288.33 444.54,291.25 445.25,295.00C445.96,298.75 446.79,303.75 447.50,307.50C448.21,311.25 448.75,313.75 449.50,317.50C450.25,321.25 451.25,326.25 452.00,330.00C452.75,333.75 453.33,337.29 454.00,340.00C454.67,342.71 455.38,344.17 456.00,346.25C456.62,348.33 457.17,350.21 457.75,352.50C458.33,354.79 458.96,358.08 459.50,360.00C460.04,361.92 460.50,364.21 461.00,364.00C461.50,363.79 461.92,360.46 462.50,358.75C463.08,357.04 463.75,355.00 464.50,353.75C465.25,352.50 466.08,352.08 467.00,351.25C467.92,350.42 469.08,349.79 470.00,348.75C470.92,347.71 471.67,346.67 472.50,345.00C473.33,343.33 474.17,340.62 475.00,338.75C475.83,336.88 476.75,334.88 477.50,333.75C478.25,332.62 478.88,331.58 479.50,332.00C480.12,332.42 480.62,334.29 481.25,336.25C481.88,338.21 482.62,342.08 483.25,343.75C483.88,345.42 484.38,346.46 485.00,346.25C485.62,346.04 486.38,344.79 487.00,342.50C487.62,340.21 488.21,336.25 488.75,332.50C489.29,328.75 489.71,323.75 490.25,320.00C490.79,316.25 491.50,311.04 492.00,310.00C492.50,308.96 492.83,312.71 493.25,313.75C493.67,314.79 494.08,316.67 494.50,316.25C494.92,315.83 495.29,314.12 495.75,311.25C496.21,308.38 496.75,303.79 497.25,299.00C497.75,294.21 498.17,287.33 498.75,282.50C499.33,277.67 500.00,273.33 500.75,270.00C501.50,266.67 502.42,265.00 503.25,262.50C504.08,260.00 505.04,257.50 505.75,255.00C506.46,252.50 507.00,250.83 507.50,247.50C508.00,244.17 508.33,238.58 508.75,235.00C509.17,231.42 509.62,227.92 510.00,226.00C510.38,224.08 510.58,224.17 511.00,223.50C511.42,222.83 511.92,221.96 512.50,222.00C513.08,222.04 513.83,223.12 514.50,223.75C515.17,224.38 515.75,225.88 516.50,225.75C517.25,225.62 518.17,224.04 519.00,223.00C519.83,221.96 520.67,220.75 521.50,219.50C522.33,218.25 523.17,216.88 524.00,215.50C524.83,214.12 525.67,212.58 526.50,211.25C527.33,209.92 528.38,207.50 529.00,207.50C529.62,207.50 529.75,209.17 530.25,211.25C530.75,213.33 531.38,217.50 532.00,220.00C532.62,222.50 533.33,224.50 534.00,226.25C534.67,228.00 535.46,229.54 536.00,230.50C536.54,231.46 536.75,232.67 537.25,232.00C537.75,231.33 538.38,228.42 539.00,226.50C539.62,224.58 540.38,221.67 541.00,220.50C541.62,219.33 542.25,219.58 542.75,219.50C543.25,219.42 543.50,220.54 544.00,220.00C544.50,219.46 545.17,217.50 545.75,216.25C546.33,215.00 546.88,213.62 547.50,212.50C548.12,211.38 548.75,210.12 549.50,209.50C550.25,208.88 551.17,208.88 552.00,208.75C552.83,208.62 553.67,209.04 554.50,208.75C555.33,208.46 556.25,207.58 557.00,207.00C557.75,206.42 558.46,205.42 559.00,205.25C559.54,205.08 559.83,205.21 560.25,206.00C560.67,206.79 561.08,208.25 561.50,210.00C561.92,211.75 562.33,214.62 562.75,216.50C563.17,218.38 563.58,220.17 564.00,221.25C564.42,222.33 564.75,223.00 565.25,223.00C565.75,223.00 566.38,222.17 567.00,221.25C567.62,220.33 568.33,219.38 569.00,217.50C569.67,215.62 570.46,212.92 571.00,210.00C571.54,207.08 571.83,203.75 572.25,200.00C572.67,196.25 573.08,191.67 573.50,187.50C573.92,183.33 574.25,177.71 574.75,175.00C575.25,172.29 575.88,172.08 576.50,171.25C577.12,170.42 577.96,171.04 578.50,170.00C579.04,168.96 579.33,167.92 579.75,165.00C580.17,162.08 580.58,157.08 581.00,152.50C581.42,147.92 581.83,142.58 582.25,137.50C582.67,132.42 583.12,126.92 583.50,122.00C583.88,117.08 584.17,111.62 584.50,108.00C584.83,104.38 585.08,102.25 585.50,100.25C585.92,98.25 586.50,95.38 587.00,96.00C587.50,96.62 588.08,99.67 588.50,104.00C588.92,108.33 589.22,116.00 589.50,122.00C589.78,128.00 589.95,135.33 590.20,140.00C590.45,144.67 590.70,150.00 591.00,150.00C591.30,150.00 591.67,143.75 592.00,140.00C592.33,136.25 592.57,131.67 593.00,127.50C593.43,123.33 594.17,115.42 594.60,115.00C595.03,114.58 595.28,120.83 595.60,125.00C595.92,129.17 596.14,134.58 596.50,140.00C596.86,145.42 597.25,153.12 597.75,157.50C598.25,161.88 598.88,164.25 599.50,166.25C600.12,168.25 600.92,169.71 601.50,169.50C602.08,169.29 602.58,168.25 603.00,165.00C603.42,161.75 603.62,155.00 604.00,150.00C604.38,145.00 604.75,138.54 605.25,135.00C605.75,131.46 606.38,128.96 607.00,128.75C607.62,128.54 608.46,131.04 609.00,133.75C609.54,136.46 609.83,139.79 610.25,145.00C610.67,150.21 611.08,157.92 611.50,165.00C611.92,172.08 612.33,181.25 612.75,187.50C613.17,193.75 613.54,198.12 614.00,202.50C614.46,206.88 615.04,211.46 615.50,213.75C615.96,216.04 616.38,217.71 616.75,216.25C617.12,214.79 617.42,211.88 617.75,205.00C618.08,198.12 618.42,185.00 618.75,175.00C619.08,165.00 619.42,153.17 619.75,145.00C620.08,136.83 620.38,130.00 620.75,126.00C621.12,122.00 621.54,121.17 622.00,121.00C622.46,120.83 622.96,123.08 623.50,125.00C624.04,126.92 624.62,130.42 625.25,132.50C625.88,134.58 626.62,135.83 627.25,137.50C627.88,139.17 628.54,139.58 629.00,142.50C629.46,145.42 629.67,149.58 630.00,155.00C630.33,160.42 630.62,169.17 631.00,175.00C631.38,180.83 631.75,186.67 632.25,190.00C632.75,193.33 633.29,194.38 634.00,195.00C634.71,195.62 635.67,193.54 636.50,193.75C637.33,193.96 638.25,195.00 639.00,196.25C639.75,197.50 640.38,199.17 641.00,201.25C641.62,203.33 642.25,206.88 642.75,208.75C643.25,210.62 643.54,212.71 644.00,212.50C644.46,212.29 645.00,209.67 645.50,207.50C646.00,205.33 646.54,201.17 647.00,199.50C647.46,197.83 647.79,197.42 648.25,197.50C648.71,197.58 649.29,199.38 649.75,200.00C650.21,200.62 650.58,202.50 651.00,201.25C651.42,200.00 651.83,196.88 652.25,192.50C652.67,188.12 653.08,180.00 653.50,175.00C653.92,170.00 654.33,165.33 654.75,162.50C655.17,159.67 655.50,158.62 656.00,158.00C656.50,157.38 657.25,158.00 657.75,158.75C658.25,159.50 658.58,159.79 659.00,162.50C659.42,165.21 659.83,170.21 660.25,175.00C660.67,179.79 661.08,186.67 661.50,191.25C661.92,195.83 662.33,200.00 662.75,202.50C663.17,205.00 663.46,205.50 664.00,206.25C664.54,207.00 665.38,206.38 666.00,207.00C666.62,207.62 667.25,208.25 667.75,210.00C668.25,211.75 668.58,214.79 669.00,217.50C669.42,220.21 669.83,223.54 670.25,226.25C670.67,228.96 671.29,232.50 671.50,233.75" stroke="#1b76c8" stroke-width="2.25"/>
</g>
<g shape-rendering="crispEdges">
<rect x="39" y="14" width="1" height="382" fill="#878787"/>
<rect x="39" y="205" width="1" height="5" fill="#c80000"/>
<rect x="672" y="14" width="1" height="382" fill="#878787"/>
<rect x="39" y="14" width="634" height="1" fill="#a8a8a8"/>
<rect x="35" y="395" width="638" height="1" fill="#a8a8a8"/>
<rect x="35" y="395" width="4" height="1" fill="#878787"/>
<rect x="35" y="363" width="4" height="1" fill="#878787"/>
<rect x="35" y="331" width="4" height="1" fill="#878787"/>
<rect x="35" y="300" width="4" height="1" fill="#878787"/>
<rect x="35" y="268" width="4" height="1" fill="#878787"/>
<rect x="35" y="236" width="4" height="1" fill="#878787"/>
<rect x="35" y="204" width="4" height="1" fill="#878787"/>
<rect x="35" y="173" width="4" height="1" fill="#878787"/>
<rect x="35" y="141" width="4" height="1" fill="#878787"/>
<rect x="35" y="109" width="4" height="1" fill="#878787"/>
<rect x="35" y="77" width="4" height="1" fill="#878787"/>
<rect x="35" y="46" width="4" height="1" fill="#878787"/>
<rect x="35" y="14" width="4" height="1" fill="#878787"/>
<rect x="673" y="48" width="4" height="1" fill="#878787"/>
<rect x="673" y="118" width="4" height="1" fill="#878787"/>
<rect x="673" y="187" width="4" height="1" fill="#878787"/>
<rect x="673" y="257" width="4" height="1" fill="#878787"/>
<rect x="673" y="326" width="4" height="1" fill="#878787"/>
<rect x="673" y="395" width="4" height="1" fill="#878787"/>
</g>
<text x="28" y="399.3" font-size="11.5" text-anchor="end" textLength="24.3" lengthAdjust="spacingAndGlyphs" fill="#000">-120</text>
<text x="28" y="367.6" font-size="11.5" text-anchor="end" textLength="24.3" lengthAdjust="spacingAndGlyphs" fill="#000">-100</text>
<text x="28" y="335.8" font-size="11.5" text-anchor="end" textLength="20.3" lengthAdjust="spacingAndGlyphs" fill="#000">-80</text>
<text x="28" y="304.1" font-size="11.5" text-anchor="end" textLength="20.3" lengthAdjust="spacingAndGlyphs" fill="#000">-60</text>
<text x="28" y="272.3" font-size="11.5" text-anchor="end" textLength="20.3" lengthAdjust="spacingAndGlyphs" fill="#000">-40</text>
<text x="28" y="240.6" font-size="11.5" text-anchor="end" textLength="20.3" lengthAdjust="spacingAndGlyphs" fill="#000">-20</text>
<text x="28" y="208.8" font-size="11.5" text-anchor="end" textLength="6.8" lengthAdjust="spacingAndGlyphs" fill="#000">0</text>
<text x="28" y="177.1" font-size="11.5" text-anchor="end" textLength="13.5" lengthAdjust="spacingAndGlyphs" fill="#000">20</text>
<text x="28" y="145.3" font-size="11.5" text-anchor="end" textLength="13.5" lengthAdjust="spacingAndGlyphs" fill="#000">40</text>
<text x="28" y="113.6" font-size="11.5" text-anchor="end" textLength="13.5" lengthAdjust="spacingAndGlyphs" fill="#000">60</text>
<text x="28" y="81.8" font-size="11.5" text-anchor="end" textLength="13.5" lengthAdjust="spacingAndGlyphs" fill="#000">80</text>
<text x="28" y="50.1" font-size="11.5" text-anchor="end" textLength="20.3" lengthAdjust="spacingAndGlyphs" fill="#000">100</text>
<text x="28" y="18.3" font-size="11.5" text-anchor="end" textLength="20.3" lengthAdjust="spacingAndGlyphs" fill="#000">120</text>
<text transform="translate(47.00,438.5) rotate(-90)" font-size="11" textLength="33.7" lengthAdjust="spacingAndGlyphs" fill="#000">Jan-00</text>
<text transform="translate(58.43,438.5) rotate(-90)" font-size="11" textLength="33.7" lengthAdjust="spacingAndGlyphs" fill="#000">Apr-00</text>
<text transform="translate(69.86,438.5) rotate(-90)" font-size="11" textLength="33.7" lengthAdjust="spacingAndGlyphs" fill="#000">Jul-00</text>
<text transform="translate(81.29,438.5) rotate(-90)" font-size="11" textLength="33.7" lengthAdjust="spacingAndGlyphs" fill="#000">Oct-00</text>
<text transform="translate(92.72,438.5) rotate(-90)" font-size="11" textLength="33.7" lengthAdjust="spacingAndGlyphs" fill="#000">Jan-01</text>
<text transform="translate(104.15,438.5) rotate(-90)" font-size="11" textLength="33.7" lengthAdjust="spacingAndGlyphs" fill="#000">Apr-01</text>
<text transform="translate(115.58,438.5) rotate(-90)" font-size="11" textLength="33.7" lengthAdjust="spacingAndGlyphs" fill="#000">Jul-01</text>
<text transform="translate(127.01,438.5) rotate(-90)" font-size="11" textLength="33.7" lengthAdjust="spacingAndGlyphs" fill="#000">Oct-01</text>
<text transform="translate(138.44,438.5) rotate(-90)" font-size="11" textLength="33.7" lengthAdjust="spacingAndGlyphs" fill="#000">Jan-02</text>
<text transform="translate(149.87,438.5) rotate(-90)" font-size="11" textLength="33.7" lengthAdjust="spacingAndGlyphs" fill="#000">Apr-02</text>
<text transform="translate(161.30,438.5) rotate(-90)" font-size="11" textLength="33.7" lengthAdjust="spacingAndGlyphs" fill="#000">Jul-02</text>
<text transform="translate(172.73,438.5) rotate(-90)" font-size="11" textLength="33.7" lengthAdjust="spacingAndGlyphs" fill="#000">Oct-02</text>
<text transform="translate(184.16,438.5) rotate(-90)" font-size="11" textLength="33.7" lengthAdjust="spacingAndGlyphs" fill="#000">Jan-03</text>
<text transform="translate(195.59,438.5) rotate(-90)" font-size="11" textLength="33.7" lengthAdjust="spacingAndGlyphs" fill="#000">Apr-03</text>
<text transform="translate(207.02,438.5) rotate(-90)" font-size="11" textLength="33.7" lengthAdjust="spacingAndGlyphs" fill="#000">Jul-03</text>
<text transform="translate(218.45,438.5) rotate(-90)" font-size="11" textLength="33.7" lengthAdjust="spacingAndGlyphs" fill="#000">Oct-03</text>
<text transform="translate(229.88,438.5) rotate(-90)" font-size="11" textLength="33.7" lengthAdjust="spacingAndGlyphs" fill="#000">Jan-04</text>
<text transform="translate(241.31,438.5) rotate(-90)" font-size="11" textLength="33.7" lengthAdjust="spacingAndGlyphs" fill="#000">Apr-04</text>
<text transform="translate(252.74,438.5) rotate(-90)" font-size="11" textLength="33.7" lengthAdjust="spacingAndGlyphs" fill="#000">Jul-04</text>
<text transform="translate(264.17,438.5) rotate(-90)" font-size="11" textLength="33.7" lengthAdjust="spacingAndGlyphs" fill="#000">Oct-04</text>
<text transform="translate(275.60,438.5) rotate(-90)" font-size="11" textLength="33.7" lengthAdjust="spacingAndGlyphs" fill="#000">Jan-05</text>
<text transform="translate(287.03,438.5) rotate(-90)" font-size="11" textLength="33.7" lengthAdjust="spacingAndGlyphs" fill="#000">Apr-05</text>
<text transform="translate(298.46,438.5) rotate(-90)" font-size="11" textLength="33.7" lengthAdjust="spacingAndGlyphs" fill="#000">Jul-05</text>
<text transform="translate(309.89,438.5) rotate(-90)" font-size="11" textLength="33.7" lengthAdjust="spacingAndGlyphs" fill="#000">Oct-05</text>
<text transform="translate(321.32,438.5) rotate(-90)" font-size="11" textLength="33.7" lengthAdjust="spacingAndGlyphs" fill="#000">Jan-06</text>
<text transform="translate(332.75,438.5) rotate(-90)" font-size="11" textLength="33.7" lengthAdjust="spacingAndGlyphs" fill="#000">Apr-06</text>
<text transform="translate(344.18,438.5) rotate(-90)" font-size="11" textLength="33.7" lengthAdjust="spacingAndGlyphs" fill="#000">Jul-06</text>
<text transform="translate(355.61,438.5) rotate(-90)" font-size="11" textLength="33.7" lengthAdjust="spacingAndGlyphs" fill="#000">Oct-06</text>
<text transform="translate(367.04,438.5) rotate(-90)" font-size="11" textLength="33.7" lengthAdjust="spacingAndGlyphs" fill="#000">Jan-07</text>
<text transform="translate(378.47,438.5) rotate(-90)" font-size="11" textLength="33.7" lengthAdjust="spacingAndGlyphs" fill="#000">Apr-07</text>
<text transform="translate(389.90,438.5) rotate(-90)" font-size="11" textLength="33.7" lengthAdjust="spacingAndGlyphs" fill="#000">Jul-07</text>
<text transform="translate(401.33,438.5) rotate(-90)" font-size="11" textLength="33.7" lengthAdjust="spacingAndGlyphs" fill="#000">Oct-07</text>
<text transform="translate(412.76,438.5) rotate(-90)" font-size="11" textLength="33.7" lengthAdjust="spacingAndGlyphs" fill="#000">Jan-08</text>
<text transform="translate(424.19,438.5) rotate(-90)" font-size="11" textLength="33.7" lengthAdjust="spacingAndGlyphs" fill="#000">Apr-08</text>
<text transform="translate(435.62,438.5) rotate(-90)" font-size="11" textLength="33.7" lengthAdjust="spacingAndGlyphs" fill="#000">Jul-08</text>
<text transform="translate(447.05,438.5) rotate(-90)" font-size="11" textLength="33.7" lengthAdjust="spacingAndGlyphs" fill="#000">Oct-08</text>
<text transform="translate(458.48,438.5) rotate(-90)" font-size="11" textLength="33.7" lengthAdjust="spacingAndGlyphs" fill="#000">Jan-09</text>
<text transform="translate(469.91,438.5) rotate(-90)" font-size="11" textLength="33.7" lengthAdjust="spacingAndGlyphs" fill="#000">Apr-09</text>
<text transform="translate(481.34,438.5) rotate(-90)" font-size="11" textLength="33.7" lengthAdjust="spacingAndGlyphs" fill="#000">Jul-09</text>
<text transform="translate(492.77,438.5) rotate(-90)" font-size="11" textLength="33.7" lengthAdjust="spacingAndGlyphs" fill="#000">Oct-09</text>
<text transform="translate(504.20,438.5) rotate(-90)" font-size="11" textLength="33.7" lengthAdjust="spacingAndGlyphs" fill="#000">Jan-10</text>
<text transform="translate(515.63,438.5) rotate(-90)" font-size="11" textLength="33.7" lengthAdjust="spacingAndGlyphs" fill="#000">Apr-10</text>
<text transform="translate(527.06,438.5) rotate(-90)" font-size="11" textLength="33.7" lengthAdjust="spacingAndGlyphs" fill="#000">Jul-10</text>
<text transform="translate(538.49,438.5) rotate(-90)" font-size="11" textLength="33.7" lengthAdjust="spacingAndGlyphs" fill="#000">Oct-10</text>
<text transform="translate(549.92,438.5) rotate(-90)" font-size="11" textLength="33.7" lengthAdjust="spacingAndGlyphs" fill="#000">Jan-11</text>
<text transform="translate(561.35,438.5) rotate(-90)" font-size="11" textLength="33.7" lengthAdjust="spacingAndGlyphs" fill="#000">Apr-11</text>
<text transform="translate(572.78,438.5) rotate(-90)" font-size="11" textLength="33.7" lengthAdjust="spacingAndGlyphs" fill="#000">Jul-11</text>
<text transform="translate(584.21,438.5) rotate(-90)" font-size="11" textLength="33.7" lengthAdjust="spacingAndGlyphs" fill="#000">Oct-11</text>
<text transform="translate(595.64,438.5) rotate(-90)" font-size="11" textLength="33.7" lengthAdjust="spacingAndGlyphs" fill="#000">Jan-12</text>
<text transform="translate(607.07,438.5) rotate(-90)" font-size="11" textLength="33.7" lengthAdjust="spacingAndGlyphs" fill="#000">Apr-12</text>
<text transform="translate(618.50,438.5) rotate(-90)" font-size="11" textLength="33.7" lengthAdjust="spacingAndGlyphs" fill="#000">Jul-12</text>
<text transform="translate(629.93,438.5) rotate(-90)" font-size="11" textLength="33.7" lengthAdjust="spacingAndGlyphs" fill="#000">Oct-12</text>
<text transform="translate(641.36,438.5) rotate(-90)" font-size="11" textLength="33.7" lengthAdjust="spacingAndGlyphs" fill="#000">Jan-13</text>
<text transform="translate(652.79,438.5) rotate(-90)" font-size="11" textLength="33.7" lengthAdjust="spacingAndGlyphs" fill="#000">Apr-13</text>
<text transform="translate(664.22,438.5) rotate(-90)" font-size="11" textLength="33.7" lengthAdjust="spacingAndGlyphs" fill="#000">Jul-13</text>
<text transform="translate(675.65,438.5) rotate(-90)" font-size="11" textLength="33.7" lengthAdjust="spacingAndGlyphs" fill="#000">Oct-13</text>
<rect x="45" y="27" width="26" height="7" fill="#bebfbd" shape-rendering="crispEdges"/>
<text x="73.75" y="34.2" font-size="11" textLength="53.75" lengthAdjust="spacingAndGlyphs">RECESSION</text>
<line x1="132.5" y1="31" x2="158" y2="31" stroke="#0f6a0f" stroke-width="2.15"/>
<text x="161.75" y="34.2" font-size="11" textLength="61.75" lengthAdjust="spacingAndGlyphs">Initial Claims</text>
<line x1="227.25" y1="31" x2="253" y2="31" stroke="#1b76c8" stroke-width="2.25"/>
<text x="256.5" y="34.2" font-size="11" textLength="145" lengthAdjust="spacingAndGlyphs">Employment/Population ratio</text>
<text x="420.75" y="34" font-size="13.6" font-weight="bold" textLength="245.5" lengthAdjust="spacingAndGlyphs">U.S Labor Market Growth Composite</text>
<g>
<rect x="498" y="364" width="174" height="31" fill="#ffffff"/>
<rect x="501" y="364.5" width="30.6" height="30.5" rx="3.2" fill="#8b0505"/>
<g transform="translate(497,361) scale(0.083333)" fill="none" stroke="#ffffff" stroke-width="11.5" stroke-linecap="round" stroke-linejoin="round">
<path d="M165,98 L152,72 L138,112 L118,152 L98,192 L92,214 L104,236 L130,250 L165,226 L200,206 L236,190"/>
<path d="M236,190 Q232,228 192,264 Q168,292 163,322"/>
<path d="M165,98 L186,96 L210,70 L226,86 Q268,100 302,136 Q338,178 346,232 Q350,270 342,300"/>
<path d="M286,150 Q316,196 328,250 Q332,280 330,300"/>
<path d="M322,148 Q348,180 358,212"/>
<path d="M150,156 L200,130"/>
<path d="M150,330 L355,330"/>
<path d="M132,354 L366,354"/>
<path d="M120,378 L370,378"/>
</g>
<text x="533.8" y="378.4" font-size="18.6" font-weight="bold" textLength="135.3" lengthAdjust="spacingAndGlyphs"><tspan fill="#0a0a0a">Recession</tspan><tspan fill="#f01018">ALERT</tspan><tspan fill="#0a0a0a">.com</tspan></text>
<text x="534.3" y="392" font-size="11" fill="#505050" textLength="134.2" lengthAdjust="spacingAndGlyphs">Advanced warning for professionals</text>
</g>
</svg></body></html>
